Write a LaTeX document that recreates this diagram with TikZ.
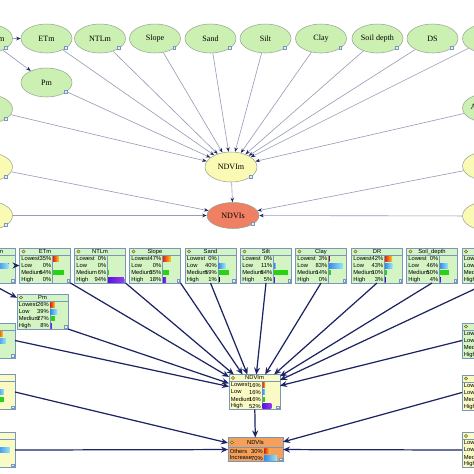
\documentclass[tikz,border=0pt]{standalone}
\usepackage{fontspec}
\setmainfont{Liberation Serif}
\newfontfamily\netfont{Liberation Sans}
\usepackage{tikz}
\usetikzlibrary{arrows.meta,shapes.geometric,positioning}

\definecolor{ellgreen}{RGB}{204,240,178}
\definecolor{ellyellow}{RGB}{250,250,180}
\definecolor{ellred}{RGB}{240,128,100}
\definecolor{ellborder}{RGB}{150,165,150}
\definecolor{toplink}{RGB}{150,156,182}
\definecolor{navylink}{RGB}{28,36,100}
\definecolor{boxgreen}{RGB}{212,244,196}
\definecolor{boxyellow}{RGB}{250,250,196}
\definecolor{boxorange}{RGB}{245,160,90}
\definecolor{boxborder}{RGB}{120,150,190}

\tikzset{
  ell/.style={ellipse, draw=ellborder, line width=0.3pt, minimum width=10.2mm, minimum height=5.8mm, inner sep=0pt, font=\fontsize{4.6}{5}\selectfont},
  ellg/.style={ell, fill=ellgreen},
  elly/.style={ell, fill=ellyellow},
  ellr/.style={ell, fill=ellred},
  toparrow/.style={draw=toplink, line width=0.35pt, -{Stealth[length=0.9mm,width=0.7mm,color=navylink]}},
  netarrow/.style={draw=navylink, line width=0.7pt, -{Stealth[length=1.4mm,width=1.2mm]}},
  netnode/.style={rectangle, draw=boxborder, line width=0.4pt, minimum width=10.2mm, minimum height=7mm, inner sep=0pt, outer sep=0pt},
  netline/.style={draw=boxborder, line width=0.3pt},
  neticon/.style={draw=black!70, fill=yellow!80!orange, line width=0.25pt},
  cornerbox/.style={draw=boxborder, fill=white!85!boxborder, line width=0.25pt},
  nettxt/.style={font=\netfont\fontsize{3.3}{4}\selectfont, inner sep=0pt},
  barlowest/.style={left color={rgb,255:red,228;green,40;blue,10}, right color={rgb,255:red,250;green,205;blue,40}},
  barlow/.style={left color={rgb,255:red,60;green,140;blue,230}, right color={rgb,255:red,150;green,232;blue,250}},
  barmed/.style={fill={rgb,255:red,40;green,210;blue,20}},
  barhigh/.style={left color={rgb,255:red,90;green,20;blue,220}, right color={rgb,255:red,150;green,60;blue,240}}
}

\newcommand{\netframe}{%
  \draw[netline] (0,7) -- (51,7);
  \draw[netline] (33,7) -- (33,35);
  \draw[neticon] (4,3.5) circle (1.6);
  \draw[cornerbox] (47.5,31.5) rectangle (50.2,34.2);}

\newcommand{\netbars}[4]{%
  \foreach \val/\barcol [count=\i] in {#1/barlowest,#2/barlow,#3/barmed,#4/barhigh}{
    \ifnum\val>0 \fill[\barcol] (33.5,1+7*\i) rectangle ++(0.17*\val,5);\fi}}

\newcommand{\netbox}[9][boxgreen]{%
  \node[netnode, fill=#1] (#2) at (#3,#4) {};
  \begin{scope}[shift={(#2.north west)}]
    \netframe
    \node[nettxt] at (25.5,3.5) {#5};
    \foreach \lab [count=\i] in {Lowest,Low,Medium,High}
      \node[nettxt, anchor=west] at (1.5,3.5+7*\i) {\lab};
    \foreach \val [count=\i] in {#6,#7,#8,#9}
      \node[nettxt, anchor=east] at (32.2,3.5+7*\i) {\val\%};
    \netbars{#6}{#7}{#8}{#9}
  \end{scope}}

\newcommand{\netleft}[8]{%
  \node[netnode, fill=#3] (#1) at (-10.5,#2) {};
  \begin{scope}[shift={(#1.north west)}]
    \netframe
    \node[nettxt, anchor=east] at (39.5,3.5) {#4};
    \netbars{#5}{#6}{#7}{#8}
  \end{scope}}

\newcommand{\netright}[3]{%
  \node[netnode, fill=#3] (#1) at (487.5,#2) {};
  \begin{scope}[shift={(#1.north west)}]
    \netframe
    \foreach \lab [count=\i] in {Lowest,Low,Medium,High}
      \node[nettxt, anchor=west] at (1.5,3.5+7*\i) {\lab};
  \end{scope}}

\begin{document}
\begin{tikzpicture}[x=0.2mm, y=-0.2mm]
\useasboundingbox (0,0) rectangle (474,474);
\clip (0,0) rectangle (474,474);
\fill[white] (0,0) rectangle (474,474);

\node[ellg, text width=7mm, align=right] (Tm) at (-13,38.5) {Tm};
\node[ellg] (ETm) at (46.5,38.5) {ETm};
\node[ellg] (NTLm) at (100,38.5) {NTLm};
\node[ellg] (Slope) at (155,38.5) {Slope};
\node[ellg] (Sand) at (210.5,38.5) {Sand};
\node[ellg] (Silt) at (265.5,38.5) {Silt};
\node[ellg] (Clay) at (321,38.5) {Clay};
\node[ellg] (Soildepth) at (377.5,38.5) {Soil depth};
\node[ellg] (DS) at (432.5,38.5) {DS};
\node[ellg] (TopR) at (488,38.5) {};
\node[ellg] (Pm) at (46.5,82.5) {Pm};
\node[ellg] (LeftA) at (-13,109) {};
\node[ellg, text width=7mm, align=left] (RightA) at (488,108) {Aspect};
\node[elly] (LeftB) at (-13,167) {};
\node[elly] (LeftC) at (-13,215.5) {};
\node[elly] (RightB) at (488,166) {};
\node[elly] (RightC) at (488,216) {};
\node[elly, minimum width=10.4mm, minimum height=6mm] (NDVIm) at (231,167) {NDVIm};
\node[ellr, minimum width=10.4mm, minimum height=5.2mm] (NDVIs) at (233,215.5) {NDVIs};

\foreach \n in {Tm,ETm,NTLm,Slope,Sand,Silt,Clay,Soildepth,DS,TopR,Pm,LeftA,RightA,LeftB,LeftC,RightB,RightC,NDVIm,NDVIs}
  \draw[cornerbox] (\n.south east) ++(-0.5,-2.5) rectangle ++(2.8,2.8);

\draw[toparrow] (Tm) -- (ETm);
\draw[toparrow] (Tm) -- (Pm);
\foreach \n in {ETm,NTLm,Slope,Sand,Silt,Clay,Soildepth,DS,TopR,Pm,LeftA,RightA}
  \draw[toparrow] (\n) -- (NDVIm);
\foreach \n in {LeftB,LeftC,RightB,RightC,NDVIm}
  \draw[toparrow] (\n) -- (NDVIs);

\netleft{bTm}{265.5}{boxgreen}{Tm}{10}{65}{15}{10}
\netbox{bETm}{45}{265.5}{ETm}{35}{0}{64}{0}
\netbox{bNTLm}{100}{265.5}{NTLm}{0}{0}{6}{94}
\netbox{bSlope}{155}{265.5}{Slope}{47}{0}{35}{18}
\netbox{bSand}{210.5}{265.5}{Sand}{0}{40}{59}{1}
\netbox{bSilt}{266}{265.5}{Silt}{0}{11}{84}{5}
\netbox{bClay}{321}{265.5}{Clay}{3}{83}{14}{0}
\netbox{bDR}{377}{265.5}{DR}{42}{43}{10}{3}
\netbox{bSoildepth}{432}{265.5}{Soil\_depth}{0}{46}{50}{4}
\netright{bTopR}{265.5}{boxgreen}
\netbox{bPm}{42.5}{311.5}{Pm}{26}{39}{27}{8}
\netleft{bLeftA}{340.5}{boxgreen}{}{32}{50}{10}{8}
\netleft{bLeftB}{392}{boxyellow}{}{12}{38}{38}{12}
\netleft{bLeftC}{450}{boxyellow}{}{9}{73}{9}{9}
\netright{bRightA}{340.5}{boxgreen}
\netright{bRightB}{392.5}{boxyellow}
\netright{bRightC}{450}{boxyellow}
\netbox[boxyellow]{bNDVIm}{254.5}{392}{NDVIm}{16}{16}{16}{52}

\node[netnode, fill=boxorange, minimum width=11mm, minimum height=4.8mm] (bNDVIs) at (255.5,449.5) {};
\begin{scope}[shift={(bNDVIs.north west)}]
  \draw[netline] (0,10) -- (55,10);
  \draw[netline] (36,10) -- (36,24);
  \draw[neticon] (4,5) circle (1.6);
  \draw[cornerbox] (51.5,20.5) rectangle (54.2,23.2);
  \node[nettxt] at (27.5,5) {NDVIs};
  \node[nettxt, anchor=west] at (1.5,13.5) {Others};
  \node[nettxt, anchor=east] at (35.2,13.5) {30\%};
  \node[nettxt, anchor=west] at (1.5,20.5) {Increase};
  \node[nettxt, anchor=east] at (35.2,20.5) {70\%};
  \fill[barlowest] (36.5,11) rectangle ++(5.3,5);
  \fill[barlow] (36.5,18) rectangle ++(12.3,5);
\end{scope}

\draw[netarrow] (bTm) -- (bETm);
\draw[netarrow] (bTm.south) -- (bPm);
\foreach \n in {bETm,bNTLm,bSlope,bPm}
  \draw[netarrow] (\n.south east) -- (bNDVIm);
\foreach \n in {bSand,bSilt,bClay,bDR,bSoildepth,bTopR}
  \draw[netarrow] (\n.south) -- (bNDVIm);
\draw[netarrow] (bLeftA.east) -- (bNDVIm);
\draw[netarrow] (bRightA.west) -- (bNDVIm);
\draw[netarrow] (bLeftB.east) -- (bNDVIs);
\draw[netarrow] (bLeftC.east) -- (bNDVIs);
\draw[netarrow] (bRightB.west) -- (bNDVIs);
\draw[netarrow] (bRightC.west) -- (bNDVIs);
\draw[netarrow] (bNDVIm) -- (bNDVIs);
\end{tikzpicture}
\end{document}
